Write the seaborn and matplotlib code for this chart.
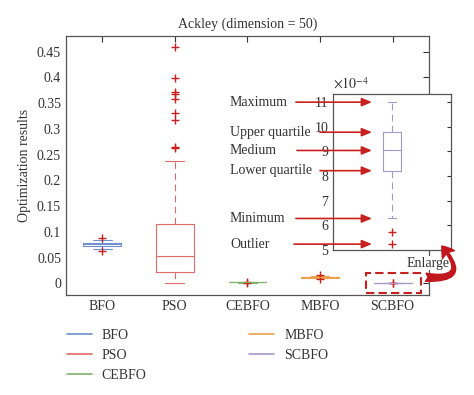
import numpy as np
import pandas as pd
import matplotlib.pyplot as plt
import seaborn as sns
from matplotlib.lines import Line2D
from matplotlib.patches import Rectangle, FancyArrowPatch
from matplotlib.ticker import FuncFormatter

# values
algorithms = ["BFO", "PSO", "CEBFO", "MBFO", "SCBFO"]
colors = ["#6f8fcf", "#e06a66", "#7fb26a", "#eaa14a", "#a796cc"]

bfo = [0.0625, 0.0665, 0.0735, 0.0750, 0.0760, 0.0770, 0.0785, 0.0845, 0.0875]
pso = [0.000, 0.004, 0.007, 0.009, 0.011, 0.013, 0.015, 0.017, 0.019, 0.020,
       0.0214,
       0.024, 0.027, 0.030, 0.034, 0.037, 0.041, 0.044, 0.048, 0.051,
       0.053,
       0.057, 0.061, 0.066, 0.071, 0.077, 0.083, 0.090, 0.098, 0.106,
       0.1146,
       0.237,
       0.2635, 0.2650, 0.317, 0.330, 0.359, 0.367, 0.372, 0.3995, 0.4585]
cebfo = [0.0008, 0.0016, 0.0018, 0.0019, 0.0020, 0.0021, 0.0023, 0.0026, 0.0036]
mbfo = [0.0085, 0.0100, 0.0110, 0.0115, 0.0118, 0.0121, 0.0125, 0.0135, 0.0160]
scbfo = [5.24e-4, 5.75e-4, 6.28e-4, 8.22e-4, 8.50e-4, 8.80e-4, 9.04e-4,
         9.30e-4, 9.55e-4, 9.78e-4, 10.2e-4, 10.6e-4, 11.0e-4]

note_labels = ["Maximum", "Upper quartile", "Medium", "Lower quartile", "Minimum", "Outlier"]

df = pd.DataFrame({
    "algorithm": np.repeat(algorithms, [len(bfo), len(pso), len(cebfo), len(mbfo), len(scbfo)]),
    "value": bfo + pso + cebfo + mbfo + scbfo,
})

sns.set_style("white")
plt.rcParams["font.family"] = ["Liberation Serif", "DejaVu Serif"]
plt.rcParams["mathtext.fontset"] = "stix"

red = "#c8201e"
text_color = "#333333"
spine_color = "#555555"

box_kw = dict(
    fill=False, whis=1.5, linewidth=0.8,
    flierprops={"marker": "+", "markeredgecolor": red, "markersize": 6, "markeredgewidth": 1.0},
    whiskerprops={"linestyle": (0, (6, 4))},
)

fig = plt.figure(figsize=(4.74, 3.95), dpi=100)
ax = fig.add_axes([0.139, 0.253, 0.766, 0.656])

sns.boxplot(data=df, x="algorithm", y="value", hue="algorithm", order=algorithms,
            hue_order=algorithms, palette=colors, width=0.52, legend=False, ax=ax, **box_kw)

ax.set_xlim(-0.5, 4.5)
ax.set_ylim(-0.0227, 0.4805)
ax.set_yticks(np.arange(0, 0.451, 0.05))
ax.yaxis.set_major_formatter(FuncFormatter(lambda v, _: f"{v:g}"))
ax.set_xlabel("")
ax.set_ylabel("Optimization results", fontsize=10, color=text_color)
ax.set_title("Ackley (dimension = 50)", fontsize=10, color=text_color, pad=6)
ax.tick_params(direction="in", length=4, top=True, right=True, labelsize=10,
               colors=text_color, width=0.8)
for s in ax.spines.values():
    s.set_color(spine_color)
    s.set_linewidth(0.9)

# dashed box round SCBFO
ax.add_patch(Rectangle((3.636, -0.0194), 0.758, 0.0388, fill=False, edgecolor=red,
                       linestyle=(0, (4, 2)), linewidth=1.5, clip_on=False, zorder=5))

# inset with the enlarged SCBFO box
ax_in = fig.add_axes([0.7025, 0.367, 0.249, 0.395])
ax_in.set_facecolor("white")
sns.boxplot(y=scbfo, ax=ax_in, color=colors[4], width=0.3, **box_kw)
ax_in.set_xlim(-1, 1)
ax_in.set_ylim(5e-4, 11.33e-4)
ax_in.set_yticks(np.arange(5, 12) * 1e-4)
ax_in.yaxis.set_major_formatter(FuncFormatter(lambda v, _: f"{v * 1e4:.0f}"))
ax_in.set_xticks([])
ax_in.set_ylabel("")
ax_in.tick_params(direction="in", length=3, right=True, labelsize=10,
                  colors=text_color, width=0.8)
for s in ax_in.spines.values():
    s.set_color(spine_color)
    s.set_linewidth(0.9)
ax_in.text(0.0, 1.015, r"$\times10^{-4}$", transform=ax_in.transAxes, ha="left",
           va="bottom", fontsize=10, color=text_color)

# annotated statistics of SCBFO
q1, med, q3 = np.percentile(scbfo, [25, 50, 75])
iqr = q3 - q1
inside = [v for v in scbfo if q1 - 1.5 * iqr <= v <= q3 + 1.5 * iqr]
note_values = [max(inside), q3, med, q1, min(inside), min(scbfo)]
arrow_start = [-0.314, -0.11, -0.305, -0.11, -0.314, -0.33]

trans = ax_in.get_yaxis_transform()
for label, val, x0 in zip(note_labels, note_values, arrow_start):
    ax_in.text(-0.873, val, label, transform=trans, ha="left", va="center",
               fontsize=10, color=text_color, clip_on=False)
    ax_in.annotate("", xy=(0.33, val), xytext=(x0, val), xycoords=trans, textcoords=trans,
                   arrowprops=dict(arrowstyle="-|>,head_length=0.6,head_width=0.25",
                                   color=red, lw=1.2, shrinkA=0, shrinkB=0),
                   annotation_clip=False)

# "Enlarge" with curved arrow
fig.text(407 / 474, 1 - 263 / 395, "Enlarge", ha="left", va="center", fontsize=10,
         color=text_color, bbox=dict(facecolor="white", edgecolor="none", pad=0.5))
curve = FancyArrowPatch((423 / 474, 1 - 277 / 395), (440 / 474, 1 - 244 / 395),
                        transform=fig.transFigure, connectionstyle="arc3,rad=1.3",
                        arrowstyle="fancy,head_length=0.6,head_width=0.8,tail_width=0.45",
                        mutation_scale=13, color="#c0161c", zorder=10)
fig.patches.append(curve)

# legend below the plot
handles = [Line2D([0], [0], color=c, lw=1.2) for c in colors]
fig.legend(handles, algorithms, ncol=2, loc="upper left", bbox_to_anchor=(0.141, 0.167),
           frameon=False, fontsize=10, handlelength=1.8, handletextpad=0.72,
           columnspacing=7.4, labelspacing=0.5, borderpad=0, borderaxespad=0,
           labelcolor=text_color)

fig.savefig("out.png", dpi=100)
